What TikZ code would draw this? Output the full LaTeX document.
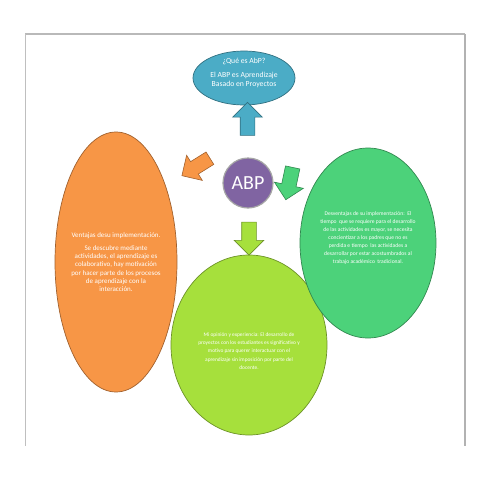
\documentclass[tikz,border=0pt]{standalone}
\usepackage{fontspec}
\setmainfont{Carlito}
\usetikzlibrary{shapes.geometric,shapes.arrows}
\definecolor{abpblue}{HTML}{4BACC6}
\definecolor{abporange}{HTML}{F79646}
\definecolor{abpgreen}{HTML}{4CD27A}
\definecolor{abplime}{HTML}{A6E03C}
\definecolor{abppurple}{HTML}{8064A2}

\begin{document}
\begin{tikzpicture}[x=1pt,y=-1pt,
  bubble/.style={ellipse,draw=#1!65!black,fill=#1,line width=0.7pt,inner sep=0pt},
  blockarrow/.style={single arrow,draw=#1!65!black,fill=#1,line width=0.6pt,
    minimum height=33pt,inner xsep=0pt,inner ysep=7pt,single arrow head extend=7.5pt},
  txt/.style={text=white,align=center,inner sep=0pt}]
\useasboundingbox (0,0) rectangle (480,480);

% page frame
\draw[gray!55,line width=2.5pt] (25,34) -- (465,34);
\draw[gray!50,line width=0.8pt] (25,34) -- (25,446);
\draw[gray!60,line width=1.5pt] (465,34) -- (465,446);

\node[bubble=abporange,minimum width=122pt,minimum height=260pt] (ventajas) at (116,262) {};
\node[bubble=abplime,minimum width=156pt,minimum height=180pt] (opinion) at (249,345) {};
\node[bubble=abpgreen,minimum width=136pt,minimum height=190pt] (desventajas) at (368,243) {};
\node[bubble=abpblue,minimum width=102pt,minimum height=54pt] (que) at (244,78) {};

\node[txt,font=\fontsize{7.7}{9.5}\selectfont] (quetxt) at (244,73)
  {¿Qué es AbP?\\[4pt] El ABP es Aprendizaje\\ Basado en Proyectos};
\node[txt,font=\fontsize{7}{8.3}\selectfont] (ventajastxt) at (116,262)
  {Ventajas desu implementación.\\[5pt] Se descubre mediante\\ actividades, el aprendizaje es\\
   colaborativo, hay motivación\\ por hacer parte de los procesos\\ de aprendizaje con la\\ interacción.};
\node[txt,font=\fontsize{5.6}{8}\selectfont] (desventajastxt) at (368,238)
  {Desventajas de su implementación:\ \ El\\ tiempo\ \ que se requiere para el desarrollo\\
   de las actividades es mayor, se necesita\\ concientizar a los padres que no es\\
   perdida e tiempo\ \ las actividades a\\ desarrollar por estar acostumbrados al\\
   trabajo académico\ \ tradicional.};
\node[txt,font=\fontsize{5.4}{8.4}\selectfont] (opiniontxt) at (249,351)
  {Mi opinión y experiencia: El desarrollo de\\ proyectos con los estudiantes es significativo y\\
   motivo para querer interactuar con el\\ aprendizaje sin imposición por parte del\\ docente.};

\foreach \n/\x/\y/\ang/\col in {arrque/247.5/122.5/90/abpblue,arrventajas/199/165/212/abporange,
    arrdesventajas/290/180/258/abpgreen,arropinion/249/235/-90/abplime}
  \node[blockarrow=\col,rotate=\ang] (\n) at (\x,\y) {};

\node[circle,draw=gray!70,line width=1.2pt,fill=abppurple,minimum size=50pt,inner sep=0pt,
  text=white,font=\fontsize{20}{24}\selectfont] (abp) at (248,183) {ABP};
\end{tikzpicture}
\end{document}
